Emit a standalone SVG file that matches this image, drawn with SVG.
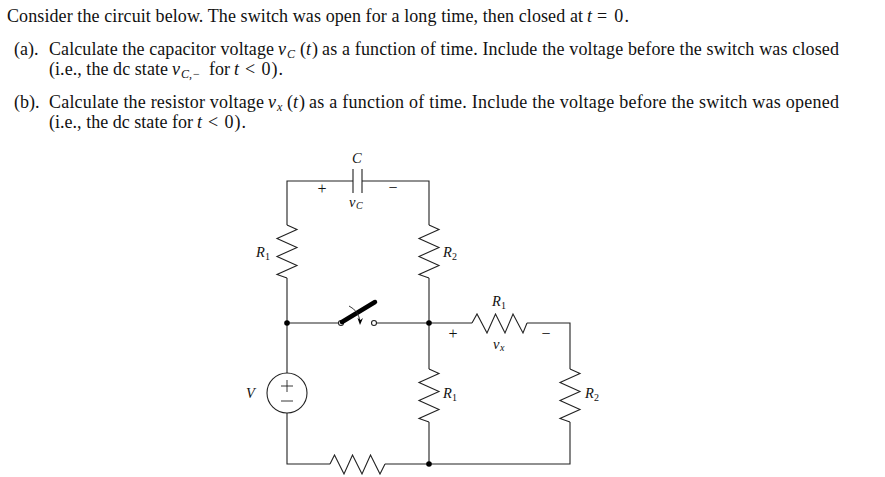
<svg xmlns="http://www.w3.org/2000/svg" width="885" height="477" viewBox="0 0 885 477">
<style>
text{font-family:"Liberation Serif","DejaVu Serif",serif;fill:#111}
.b{font-size:18px}
.i{font-style:italic}
.s{font-size:12px}
.p{font-size:16px;text-anchor:middle}
.l{font-size:14.500px}
.ls{font-size:10px}
.w{fill:none;stroke:#222;stroke-width:1.1}
.t{fill:none;stroke:#222;stroke-width:.9}
.d{fill:#000}
.o{fill:#fff;stroke:#222;stroke-width:1.1}
</style>
<rect width="885" height="477" fill="#fff"/>
<g id="question">
<text class="b" x="7" y="22" textLength="576">Consider the circuit below. The switch was open for a long time, then closed at</text>
<text class="b i" x="587" y="22">t</text><text class="b" x="597" y="22" textLength="32">= 0.</text>
<text class="b" x="14" y="55">(a).</text>
<text class="b" x="49" y="55" textLength="225">Calculate the capacitor voltage</text>
<text class="b i" x="278" y="55">v</text><text class="s i" x="287" y="58">C</text>
<text class="b" x="300" y="55">(</text><text class="b i" x="306" y="55">t</text><text class="b" x="312" y="55">)</text>
<text class="b" x="322" y="55" textLength="517">as a function of time. Include the voltage before the switch was closed</text>
<text class="b" x="49" y="75" textLength="119">(i.e., the dc state</text>
<text class="b i" x="172" y="75">v</text><text class="s i" x="181" y="78">C,</text><text class="s" x="193" y="78">−</text>
<text class="b" x="209" y="75">for</text><text class="b i" x="234" y="75">t</text><text class="b" x="245" y="75" textLength="38">&lt; 0).</text>
<text class="b" x="14" y="108">(b).</text>
<text class="b" x="49" y="108" textLength="215">Calculate the resistor voltage</text>
<text class="b i" x="268" y="108">v</text><text class="s i" x="277" y="111">x</text>
<text class="b" x="287" y="108">(</text><text class="b i" x="293" y="108">t</text><text class="b" x="299" y="108">)</text>
<text class="b" x="309" y="108" textLength="530">as a function of time. Include the voltage before the switch was opened</text>
<text class="b" x="49" y="128" textLength="144">(i.e., the dc state for</text>
<text class="b i" x="197" y="128">t</text><text class="b" x="208" y="128" textLength="38">&lt; 0).</text>
</g>
<g id="connectors">
<path class="w" d="M287 225V181H353M362 181H429V225M287 278V373M287 413V464H330M385 464H570V422M429 278V369M429 422V464M287 323H341M376 323H472M527 323H570V369"/>
</g>
<g id="R1-left"><path class="w" d="M287 225L297 229.500L277 238.500L297 247.500L277 256.500L297 265.500L277 274.500L287 278"/><text class="l i" x="256" y="257">R</text><text class="ls" x="265" y="260">1</text></g>
<g id="C"><path class="w" d="M353 169V193M362 169V193"/><text class="l i" x="352" y="163">C</text><text class="p" x="322" y="194">+</text><text class="p" x="393" y="193">−</text><text class="l i" x="349" y="207">v</text><text class="ls i" x="356" y="209">C</text></g>
<g id="R2-top"><path class="w" d="M429 225L439 229.500L419 238.500L439 247.500L419 256.500L439 265.500L419 274.500L429 278"/><text class="l i" x="443" y="257">R</text><text class="ls" x="452" y="260">2</text></g>
<g id="switch"><circle class="o" cx="341" cy="323" r="2.500"/><circle class="o" cx="374" cy="323" r="2.500"/><path d="M342 322L375 302" stroke="#000" stroke-width="4.500" stroke-linecap="round" fill="none"/><path class="t" d="M349 306Q359 311 360 322"/><path d="M360 325L357.500 318L360.500 320L363 318Z"/></g>
<g id="n1"><circle class="d" cx="287" cy="323" r="2.800"/></g>
<g id="n2"><circle class="d" cx="429" cy="323" r="2.800"/></g>
<g id="n3"><circle class="d" cx="429" cy="464" r="2.800"/></g>
<g id="V"><circle class="o" cx="287" cy="393" r="20"/><path class="t" d="M281 386H293M287 380V392M281 401H293"/><text class="l i" x="246" y="398">V</text></g>
<g id="R-bottom"><path class="w" d="M330 464L334.500 455L344 474L352.500 455L362 474L370.500 455L380 474L385 464"/></g>
<g id="R1-mid"><path class="w" d="M472 323L477 314L487 333L495.500 314L505 333L513 314L523 333L527 323"/><text class="l i" x="492" y="306">R</text><text class="ls" x="501" y="309">1</text><text class="p" x="453" y="339">+</text><text class="p" x="546" y="339">−</text><text class="l i" x="493" y="349">v</text><text class="ls i" x="500" y="351">x</text></g>
<g id="R1-low"><path class="w" d="M429 369L439 373.500L419 382.500L439 391.500L419 400.500L439 409.500L419 418.500L429 422"/><text class="l i" x="443" y="398">R</text><text class="ls" x="452" y="401">1</text></g>
<g id="R2-right"><path class="w" d="M570 369L580 373.500L560 382.500L580 391.500L560 400.500L580 409.500L560 418.500L570 422"/><text class="l i" x="585" y="398">R</text><text class="ls" x="594" y="401">2</text></g>
</svg>
